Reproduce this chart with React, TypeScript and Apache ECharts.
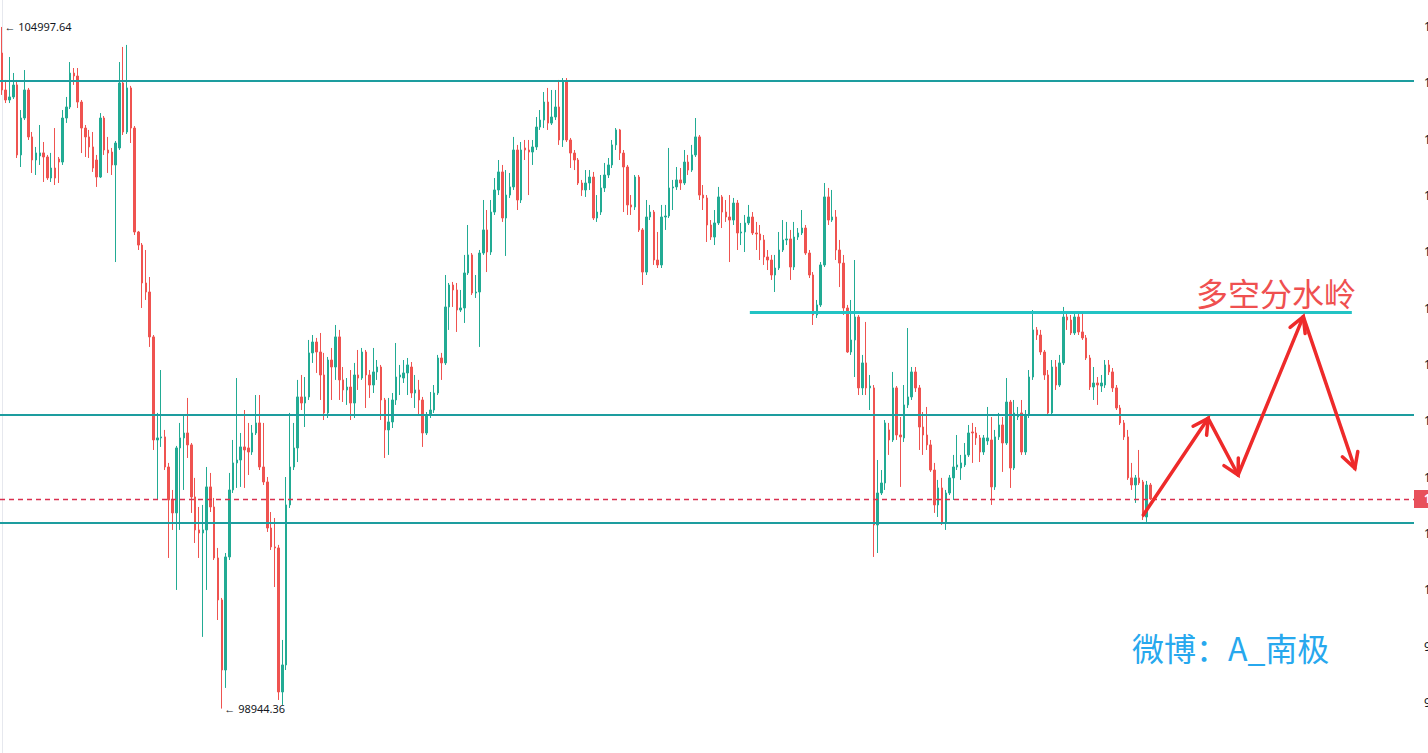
import React, { useEffect, useRef } from "react";
import * as echarts from "echarts";

// [open, close, lowest, highest]
const candles: number[][] = [
  [104766, 104438, 104394, 104997.64],
  [104438, 104349, 104322, 104527],
  [104349, 104376, 104322, 104731],
  [104376, 104482, 104358, 104589],
  [104483, 103861, 103834, 104527],
  [103861, 104189, 103754, 104260],
  [104189, 104438, 104171, 104615],
  [104438, 104021, 103994, 104456],
  [104021, 103816, 103701, 104065],
  [103816, 103879, 103683, 103932],
  [103852, 103879, 103772, 104127],
  [103879, 103843, 103621, 103976],
  [103843, 103657, 103639, 103861],
  [103656, 103745, 103621, 103879],
  [103745, 103656, 103594, 104100],
  [103825, 103798, 103612, 103843],
  [103798, 104189, 103772, 104260],
  [104189, 104287, 104145, 104376],
  [104287, 104588, 104269, 104686],
  [104588, 104562, 104483, 104633],
  [104562, 104331, 104278, 104633],
  [104331, 104100, 103878, 104349],
  [104100, 104021, 103843, 104127],
  [104021, 103932, 103834, 104083],
  [103932, 103745, 103710, 104065],
  [103816, 103665, 103577, 103861],
  [103665, 104189, 103656, 104233],
  [104189, 103905, 103861, 104207],
  [103905, 103878, 103701, 104021],
  [103887, 103772, 103683, 103923],
  [103772, 103967, 102910, 103985],
  [103923, 104500, 103905, 104686],
  [104500, 104065, 104038, 104820],
  [104065, 104456, 104047, 104838],
  [104456, 104100, 103967, 104474],
  [104100, 103177, 103150, 104118],
  [103177, 103061, 103017, 103186],
  [103061, 102724, 102502, 103079],
  [102724, 102644, 102573, 103017],
  [102644, 102245, 102156, 102777],
  [102245, 101330, 101241, 102262],
  [101330, 101348, 100797, 101570],
  [101348, 101357, 101268, 101951],
  [101357, 101090, 101063, 101419],
  [101090, 100797, 100282, 101126],
  [100797, 100682, 100531, 100886],
  [100682, 101259, 99998, 101277],
  [101259, 101348, 100531, 101481],
  [101348, 101392, 100886, 101552],
  [101392, 101286, 101170, 101703],
  [101286, 100824, 100682, 101303],
  [100824, 100531, 100415, 100993],
  [100531, 100504, 100282, 100735],
  [100504, 100531, 99581, 100753],
  [100531, 100913, 99998, 101090],
  [100913, 100735, 100690, 101037],
  [100735, 100282, 100264, 100815],
  [100282, 99909, 99731, 100371],
  [99909, 99287, 98944.36, 99927],
  [99287, 100291, 99128, 100326],
  [100291, 100886, 100264, 101037],
  [100886, 101126, 100859, 101330],
  [101126, 101152, 100904, 101880],
  [101152, 101268, 100913, 101392],
  [101268, 101241, 100904, 101596],
  [101259, 101223, 101019, 101481],
  [101223, 101392, 101197, 101463],
  [101392, 101481, 101374, 101729],
  [101481, 101090, 101063, 101729],
  [101090, 100957, 100930, 101481],
  [100957, 100548, 100513, 101001],
  [100548, 100380, 100353, 100690],
  [100380, 100371, 100024, 100637],
  [100371, 99092, 99021, 100398],
  [99092, 99332, 98977, 99554],
  [99332, 100753, 99287, 101001],
  [100753, 101090, 100726, 101570],
  [101090, 101259, 101063, 101481],
  [101259, 101712, 101134, 101863],
  [101712, 101658, 101596, 101907],
  [101658, 101712, 101445, 101889],
  [101712, 102103, 101685, 102218],
  [102103, 102200, 102014, 102262],
  [102200, 102111, 101925, 102236],
  [102111, 101907, 101685, 102280],
  [101907, 101570, 101507, 102103],
  [101570, 102040, 101525, 102067],
  [102040, 101978, 101685, 102147],
  [101978, 102245, 101863, 102351],
  [102245, 101863, 101685, 102307],
  [101863, 101774, 101667, 101978],
  [101774, 101800, 101641, 101880],
  [101800, 101658, 101507, 101951],
  [101658, 101907, 101525, 102014],
  [101907, 101880, 101774, 102129],
  [101880, 102111, 101863, 102147],
  [102111, 101907, 101614, 102129],
  [101907, 101818, 101703, 101951],
  [101818, 101934, 101747, 102147],
  [101934, 101978, 101863, 102040],
  [101978, 101685, 101507, 101996],
  [101685, 101419, 101170, 101703],
  [101419, 101490, 101197, 101703],
  [101490, 101685, 101436, 101747],
  [101685, 101889, 101641, 102191],
  [101889, 101907, 101729, 101996],
  [101880, 101925, 101836, 102040],
  [101925, 101996, 101729, 102058],
  [101978, 101747, 101703, 102022],
  [101747, 101774, 101614, 101907],
  [101774, 101685, 101543, 101863],
  [101685, 101392, 101268, 101712],
  [101392, 101552, 101374, 101578],
  [101552, 101596, 101525, 101756],
  [101596, 101747, 101570, 101818],
  [101747, 102058, 101729, 102085],
  [102058, 102014, 101863, 102103],
  [102014, 102511, 101996, 102795],
  [102511, 102706, 102307, 102724],
  [102706, 102662, 102511, 102733],
  [102662, 102484, 102289, 102724],
  [102484, 102502, 102466, 102662],
  [102502, 102813, 102369, 102973],
  [102813, 102973, 102795, 103239],
  [102973, 102635, 102617, 102990],
  [102635, 102644, 102591, 102795],
  [102644, 102990, 102156, 103017],
  [102990, 103195, 102973, 103461],
  [103195, 102999, 102821, 103372],
  [102999, 103354, 102973, 103461],
  [103354, 103550, 103328, 103656],
  [103550, 103710, 103505, 103816],
  [103710, 103301, 103266, 103772],
  [103301, 103505, 102964, 103727],
  [103505, 103577, 103479, 103701],
  [103577, 103905, 103550, 104021],
  [103905, 103461, 103372, 103950],
  [103461, 103905, 103434, 103976],
  [103923, 103905, 103816, 103994],
  [103905, 103887, 103505, 103994],
  [103887, 103932, 103772, 103994],
  [103932, 104109, 103905, 104198],
  [104109, 104171, 104083, 104260],
  [104171, 104331, 104100, 104420],
  [104331, 104144, 104083, 104456],
  [104144, 104198, 104127, 104438],
  [104198, 104287, 104171, 104438],
  [104287, 103994, 103950, 104527],
  [103994, 104509, 103932, 104544],
  [104509, 103994, 103976, 104544],
  [103994, 103878, 103745, 104012],
  [103878, 103816, 103727, 103905],
  [103816, 103612, 103594, 103834],
  [103612, 103550, 103497, 103639],
  [103550, 103612, 103488, 103727],
  [103612, 103665, 103550, 103727],
  [103665, 103301, 103283, 103710],
  [103301, 103354, 103266, 103505],
  [103354, 103568, 103328, 103683],
  [103568, 103683, 103532, 103790],
  [103683, 103772, 103656, 103834],
  [103772, 103950, 103745, 103994],
  [103950, 104083, 103905, 104100],
  [104083, 103878, 103816, 104092],
  [103878, 103754, 103354, 103905],
  [103754, 103417, 103328, 103772],
  [103417, 103399, 103328, 103505],
  [103399, 103665, 103372, 103683],
  [103665, 103195, 103177, 103683],
  [103195, 102821, 102706, 103212],
  [102821, 103310, 102795, 103461],
  [103310, 103354, 103283, 103417],
  [103354, 102928, 102884, 103372],
  [102928, 102884, 102857, 103177],
  [102884, 103310, 102857, 103417],
  [103310, 103319, 103195, 103417],
  [103319, 103568, 103301, 103923],
  [103568, 103577, 103372, 103639],
  [103577, 103639, 103550, 103754],
  [103639, 103612, 103550, 103745],
  [103612, 103798, 103594, 103905],
  [103798, 103727, 103683, 103861],
  [103727, 103861, 103710, 103950],
  [103861, 104021, 103843, 104189],
  [104021, 103505, 103461, 104038],
  [103505, 103479, 103372, 103594],
  [103479, 103239, 103088, 103505],
  [103239, 103132, 103106, 103283],
  [103132, 103257, 103061, 103372],
  [103257, 103488, 103239, 103577],
  [103488, 103354, 103212, 103505],
  [103354, 103310, 103266, 103461],
  [103310, 103283, 102910, 103505],
  [103283, 103434, 103239, 103479],
  [103434, 103168, 103017, 103461],
  [103168, 103177, 103061, 103257],
  [103177, 103257, 102999, 103328],
  [103257, 103310, 103239, 103417],
  [103310, 103168, 103150, 103354],
  [103168, 103159, 103017, 103266],
  [103159, 103106, 102928, 103239],
  [103106, 102955, 102884, 103150],
  [102955, 102928, 102839, 103017],
  [102928, 102795, 102751, 102973],
  [102795, 102857, 102644, 102973],
  [102857, 103017, 102839, 103177],
  [103017, 103106, 102999, 103283],
  [103106, 103115, 103061, 103266],
  [103115, 102866, 102751, 103195],
  [102866, 103132, 102839, 103266],
  [103132, 103168, 103106, 103212],
  [103168, 103212, 103150, 103372],
  [103212, 102990, 102973, 103239],
  [102990, 102795, 102768, 103017],
  [102795, 102440, 102351, 102821],
  [102440, 102529, 102413, 102573],
  [102529, 102884, 102511, 102910],
  [102884, 103488, 102866, 103612],
  [103488, 103283, 103239, 103568],
  [103283, 103310, 103266, 103550],
  [103310, 103017, 102928, 103372],
  [103017, 102901, 102688, 103106],
  [102901, 102502, 102440, 102973],
  [102502, 102111, 102103, 102529],
  [102111, 102218, 102085, 102573],
  [102218, 102422, 101889, 102928],
  [102422, 101792, 101729, 102440],
  [101792, 102014, 101729, 102085],
  [102014, 101792, 101729, 102378],
  [101792, 101809, 101596, 101907],
  [101792, 100575, 100291, 101818],
  [100575, 100859, 100326, 101152],
  [100859, 100948, 100841, 101063],
  [100948, 101481, 100886, 101507],
  [101419, 101330, 101197, 101481],
  [101330, 101792, 101312, 101934],
  [101792, 101374, 101330, 101809],
  [101374, 101357, 100913, 101534],
  [101348, 101641, 101312, 101818],
  [101641, 101712, 101614, 102324],
  [101712, 101934, 101685, 101978],
  [101934, 101792, 101756, 101978],
  [101792, 101445, 101241, 101818],
  [101445, 101374, 101197, 101578],
  [101374, 101286, 101241, 101623],
  [101286, 101063, 101046, 101330],
  [101063, 100753, 100682, 101126],
  [100753, 100904, 100646, 100975],
  [100904, 100602, 100575, 100993],
  [100602, 100859, 100531, 100886],
  [100859, 100993, 100841, 101019],
  [100993, 101090, 100797, 101197],
  [101090, 101108, 101063, 101374],
  [101081, 101126, 100975, 101197],
  [101108, 101197, 101090, 101303],
  [101197, 101392, 101179, 101463],
  [101401, 101392, 101126, 101481],
  [101392, 101348, 101286, 101445],
  [101348, 101223, 101134, 101374],
  [101223, 101348, 101197, 101374],
  [101321, 101348, 101286, 101623],
  [101330, 100913, 100753, 101534],
  [100913, 101357, 100886, 101419],
  [101357, 101463, 101330, 101570],
  [101463, 101303, 101046, 101534],
  [101303, 101667, 101286, 101880],
  [101667, 101081, 100904, 101685],
  [101081, 101570, 101063, 101685],
  [101534, 101552, 101507, 101623],
  [101570, 101223, 101197, 101685],
  [101223, 101552, 101197, 101596],
  [101552, 101889, 101525, 101951],
  [101889, 102307, 101863, 102484],
  [102307, 102262, 102218, 102333],
  [102262, 102111, 102085, 102307],
  [102111, 101907, 101863, 102129],
  [101907, 101570, 101552, 101951],
  [101570, 101978, 101552, 102040],
  [101978, 101818, 101774, 102040],
  [101818, 102014, 101800, 102085],
  [102014, 102422, 101996, 102511],
  [102422, 102395, 102307, 102458],
  [102395, 102280, 102262, 102440],
  [102280, 102422, 102262, 102466],
  [102422, 102289, 102262, 102458],
  [102289, 102236, 102218, 102466],
  [102236, 102058, 102040, 102262],
  [102058, 101800, 101774, 102085],
  [101800, 101836, 101685, 101978],
  [101836, 101818, 101641, 101889],
  [101809, 101836, 101756, 101907],
  [101818, 101996, 101792, 102040],
  [101996, 101934, 101907, 102040],
  [101934, 101792, 101756, 101969],
  [101792, 101614, 101596, 101818],
  [101614, 101481, 101463, 101641],
  [101481, 101357, 101330, 101507],
  [101357, 100993, 100975, 101419],
  [100993, 100930, 100886, 101126],
  [100930, 100993, 100771, 101019],
  [100993, 100948, 100930, 101241],
  [100957, 100646, 100619, 100975],
  [100646, 100930, 100602, 100966],
  [100930, 100806, 100797, 100948],
];

const SLOT_COUNT = 373; // candles plus empty space on the right
const categories: string[] = Array.from({ length: SLOT_COUNT }, (_, i) => String(i));

const levelLines: number[] = [104524, 101558, 100595];
const pivotLine = { startIndex: 197.3, endIndex: 356.1, price: 102462 };
const lastPrice = 100806;
const highMark = { index: 0, price: 104997.64 };
const lowMark = { index: 58, price: 98944.36 };

// projected path (x in candle-index units, y in price)
const arrowX: number[] = [301.1, 318.2, 326.1, 343.3, 356.9];
const arrowY: number[] = [100664, 101522, 101019, 102425, 101078];

const UP = "#22ab94";
const DOWN = "#ef5350";
const TEAL = "#1d9d9f";
const CYAN = "#22c3c4";
const ARROW = "#ee2a2a";

export default function App() {
  const ref = useRef<HTMLDivElement>(null);

  useEffect(() => {
    if (!ref.current) return;
    const chart = echarts.init(ref.current, undefined, { renderer: "svg" });

    const segments: number[][] = [];
    for (let i = 0; i < arrowX.length - 1; i++) {
      segments.push([arrowX[i], arrowY[i], arrowX[i + 1], arrowY[i + 1]]);
    }

    const option: any = {
      animation: false,
      backgroundColor: "#ffffff",
      grid: { left: 0, top: 0, width: 1414, bottom: 0 },
      xAxis: [
        {
          type: "category",
          data: categories,
          boundaryGap: true,
          axisLine: { show: false },
          axisTick: { show: false },
          axisLabel: { show: false },
          splitLine: { show: false },
        },
        {
          type: "value",
          min: -0.5,
          max: SLOT_COUNT - 0.5,
          show: false,
        },
      ],
      yAxis: {
        type: "value",
        position: "right",
        min: 98550,
        max: 105237,
        splitNumber: 13,
        axisLine: { show: true, lineStyle: { color: "#e6e8ee", width: 1 } },
        axisTick: { show: false },
        splitLine: { show: false },
        axisLabel: {
          showMinLabel: false,
          showMaxLabel: false,
          margin: 10,
          color: "#131722",
          fontSize: 12,
          fontFamily: "Noto Sans",
          formatter: (v: number) => v.toFixed(2),
        },
      },
      series: [
        {
          type: "candlestick",
          data: candles,
          barWidth: 2,
          itemStyle: {
            color: UP,
            color0: DOWN,
            borderColor: UP,
            borderColor0: DOWN,
            borderWidth: 1,
          },
          markLine: {
            silent: true,
            symbol: "none",
            data: [
              ...levelLines.map((v) => ({
                yAxis: v,
                lineStyle: { color: TEAL, width: 2, type: "solid" },
                label: { show: false },
              })),
              {
                yAxis: lastPrice,
                lineStyle: { color: "#d9304f", width: 1.3, type: [5, 4], opacity: 1 },
                label: {
                  show: true,
                  position: "end",
                  distance: 0,
                  formatter: lastPrice.toFixed(2),
                  backgroundColor: "#e8505b",
                  color: "#ffffff",
                  fontSize: 12,
                  fontWeight: "bold",
                  fontFamily: "Noto Sans",
                  padding: [3, 8, 3, 10],
                },
              },
            ],
          },
          markPoint: {
            symbol: "circle",
            symbolSize: 1,
            itemStyle: { color: "rgba(0,0,0,0)" },
            label: {
              show: true,
              position: "right",
              distance: 2,
              color: "#131722",
              fontSize: 11,
              fontFamily: "Noto Sans",
            },
            data: [
              {
                coord: [highMark.index, highMark.price],
                label: { formatter: "← " + highMark.price.toFixed(2) },
              },
              {
                coord: [lowMark.index, lowMark.price],
                label: { formatter: "← " + lowMark.price.toFixed(2) },
              },
            ],
          },
        },
        {
          type: "line",
          xAxisIndex: 1,
          yAxisIndex: 0,
          symbol: "none",
          silent: true,
          lineStyle: { color: CYAN, width: 3 },
          data: [
            [pivotLine.startIndex, pivotLine.price],
            [pivotLine.endIndex, pivotLine.price],
          ],
          z: 5,
        },
        {
          type: "custom",
          xAxisIndex: 1,
          yAxisIndex: 0,
          silent: true,
          clip: false,
          z: 10,
          encode: { x: [0, 2], y: [1, 3] },
          data: segments,
          renderItem: (params: any, api: any) => {
            const a = api.coord([api.value(0), api.value(1)]);
            const b = api.coord([api.value(2), api.value(3)]);
            const ang = Math.atan2(b[1] - a[1], b[0] - a[0]);
            const len = 17;
            const spread = 0.5;
            const h1 = [b[0] - len * Math.cos(ang - spread), b[1] - len * Math.sin(ang - spread)];
            const h2 = [b[0] - len * Math.cos(ang + spread), b[1] - len * Math.sin(ang + spread)];
            return {
              type: "group",
              children: [
                {
                  type: "line",
                  shape: { x1: a[0], y1: a[1], x2: b[0], y2: b[1] },
                  style: { stroke: ARROW, lineWidth: 3.5, lineCap: "round" },
                },
                {
                  type: "polyline",
                  shape: { points: [h1, b, h2] },
                  style: { stroke: ARROW, lineWidth: 3.5, fill: "none", lineJoin: "miter", lineCap: "round" },
                },
              ],
            };
          },
        },
      ],
      graphic: [
        {
          type: "text",
          left: 1196,
          top: 276,
          z: 20,
          style: {
            text: "多空分水岭",
            fill: "#ef5050",
            fontSize: 32,
            fontFamily: "Noto Sans CJK SC",
          },
        },
        {
          type: "text",
          left: 1132,
          top: 631,
          z: 20,
          style: {
            text: "微博：A_南极",
            fill: "#27a8ee",
            fontSize: 32,
            fontFamily: "Noto Sans CJK SC",
          },
        },
      ],
    };

    chart.setOption(option);
    return () => chart.dispose();
  }, []);

  return (
    <div
      style={{
        position: "fixed",
        left: 0,
        top: 0,
        width: 1428,
        height: 753,
        overflow: "hidden",
        background: "#ffffff",
      }}
    >
      <div ref={ref} style={{ width: 1500, height: 753 }} />
    </div>
  );
}
